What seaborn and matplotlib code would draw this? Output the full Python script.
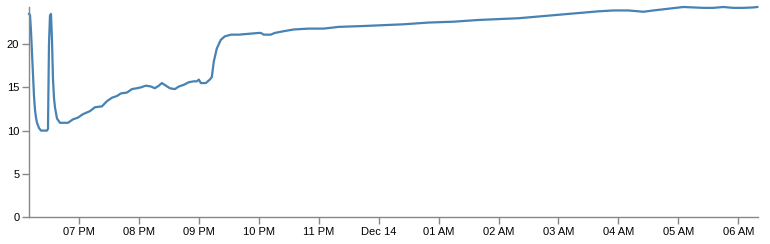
import matplotlib
matplotlib.use("Agg")
import matplotlib.pyplot as plt
import matplotlib.dates as mdates
import matplotlib.ticker as mticker
import seaborn as sns
import pandas as pd

times = ["18:10", "18:11", "18:12", "18:13", "18:14", "18:15", "18:16", "18:17", "18:18", "18:20",
         "18:22", "18:28", "18:29", "18:30", "18:31", "18:32", "18:33", "18:34", "18:35", "18:36",
         "18:38", "18:41", "18:49", "18:54", "18:59", "19:04", "19:11", "19:16", "19:23", "19:28",
         "19:33", "19:38",
         "19:42", "19:48", "19:53", "19:58", "20:02", "20:07", "20:12", "20:16", "20:20", "20:23",
         "20:27", "20:31", "20:36", "20:40", "20:45", "20:50", "20:55", "20:58", "21:00", "21:02",
         "21:07", "21:11", "21:13", "21:15", "21:18", "21:22", "21:26", "21:32", "21:40", "21:50",
         "22:00", "22:02", "22:05", "22:12", "22:16", "22:25", "22:35", "22:50", "23:05", "23:20",
         "23:45", "00:05", "00:25", "00:50", "01:15", "01:40", "02:00", "02:20", "02:40", "03:00",
         "03:20", "03:40", "03:55", "04:10", "04:20", "04:25", "04:35", "04:50", "05:05", "05:15",
         "05:25", "05:35", "05:45", "05:55", "06:05", "06:15", "06:19"]
values = [23.5, 23.4, 21.5, 19.0, 16.5, 14.0, 12.4, 11.5, 10.9, 10.3,
          10.0, 10.0, 10.2, 20.0, 23.3, 23.5, 20.5, 16.0, 13.8, 12.7,
          11.4, 10.9, 10.9, 11.3, 11.5, 11.9, 12.25, 12.7, 12.8, 13.4,
          13.8, 14.0,
          14.3, 14.4, 14.8, 14.9, 15.0, 15.2, 15.1, 14.9, 15.2, 15.5,
          15.2, 14.9, 14.8, 15.1, 15.3, 15.6, 15.7, 15.7, 15.9, 15.5,
          15.5, 15.9, 16.2, 18.0, 19.5, 20.5, 20.9, 21.1, 21.1, 21.2,
          21.3, 21.3, 21.1, 21.1, 21.3, 21.5, 21.7, 21.8, 21.8, 22.0,
          22.1, 22.2, 22.3, 22.5, 22.6, 22.8, 22.9, 23.0, 23.2, 23.4,
          23.6, 23.8, 23.9, 23.9, 23.8, 23.75, 23.9, 24.1, 24.3, 24.25,
          24.2, 24.2, 24.3, 24.2, 24.2, 24.25, 24.3]

y_ticks = [0, 5, 10, 15, 20]

stamps = []
for t in times:
    h = int(t[:2])
    day = "2019-12-13" if h >= 12 else "2019-12-14"
    stamps.append(pd.Timestamp(f"{day} {t}"))
df = pd.DataFrame({"time": stamps, "value": values})

plt.rcParams["font.family"] = ["Liberation Sans", "DejaVu Sans"]
fig = plt.figure(figsize=(7.7, 2.44), dpi=100)
ax = fig.add_axes([29 / 770, 1 - 217 / 244, (758.3 - 29) / 770, (217 - 7) / 244])
sns.lineplot(data=df, x="time", y="value", ax=ax, color="#4682b4", linewidth=1.6)
for ln in ax.get_lines():
    ln.set_clip_on(False)
    ln.set_solid_joinstyle("round")

ax.set_xlim(pd.Timestamp("2019-12-13 18:10"), pd.Timestamp("2019-12-14 06:20"))
ax.set_ylim(0, 24.3)
ax.set_yticks(y_ticks)
ax.xaxis.set_major_locator(mdates.HourLocator())

def fmt(x, pos):
    d = mdates.num2date(x)
    if d.hour == 0 and d.minute == 0:
        return d.strftime("%b %d")
    return d.strftime("%I %p")

ax.xaxis.set_major_formatter(mticker.FuncFormatter(fmt))
ax.set_xlabel("")
ax.set_ylabel("")
for s in ["top", "right"]:
    ax.spines[s].set_visible(False)
for s in ["left", "bottom"]:
    ax.spines[s].set_color("#888888")
    ax.spines[s].set_linewidth(1)
ax.tick_params(axis="both", colors="#888888", length=5, width=1, labelcolor="black", labelsize=8, pad=2)
ax.grid(False)
fig.savefig("out.png", dpi=100)
